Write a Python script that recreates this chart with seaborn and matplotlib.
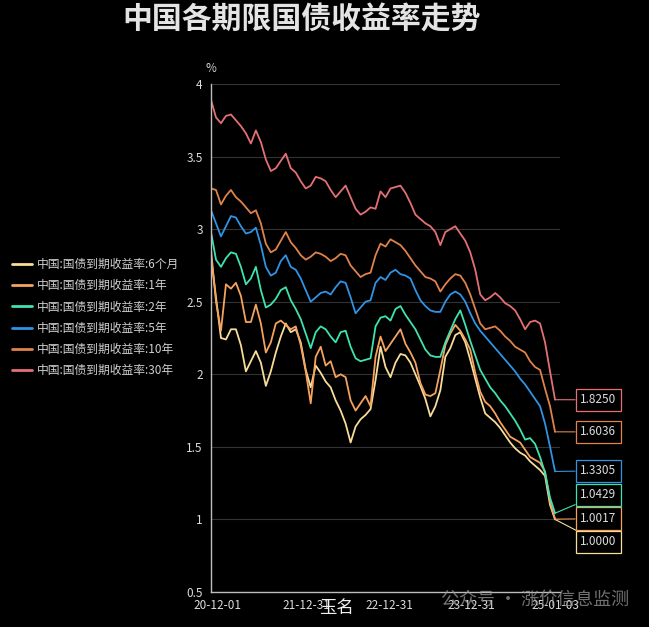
import numpy as np
import pandas as pd
import matplotlib
matplotlib.use("Agg")
import matplotlib.pyplot as plt
import matplotlib.dates as mdates
import seaborn as sns

# ---------------- data ----------------
series_names = [
    "中国:国债到期收益率:6个月",
    "中国:国债到期收益率:1年",
    "中国:国债到期收益率:2年",
    "中国:国债到期收益率:5年",
    "中国:国债到期收益率:10年",
    "中国:国债到期收益率:30年",
]
start_date = "2020-11-04"
end_date = "2025-01-03"

y_6m = [2.81, 2.53, 2.25, 2.24, 2.31, 2.31, 2.20, 2.02, 2.09, 2.16,
        2.08, 1.92, 2.02, 2.15, 2.26, 2.35, 2.29, 2.31, 2.22, 2.03,
        1.91, 2.06, 2.01, 1.95, 1.91, 1.82, 1.75, 1.66, 1.53, 1.64,
        1.69, 1.72, 1.76, 1.96, 2.19, 2.05, 1.98, 2.08, 2.14, 2.13,
        2.08, 2.00, 1.92, 1.83, 1.71, 1.78, 1.89, 2.12, 2.18, 2.27,
        2.29, 2.22, 2.10, 1.97, 1.84, 1.73, 1.70, 1.67, 1.63, 1.58,
        1.53, 1.49, 1.46, 1.44, 1.40, 1.37, 1.34, 1.30, 1.10, 1.0000]
y_1y = [2.86, 2.50, 2.30, 2.62, 2.59, 2.63, 2.54, 2.36, 2.36, 2.48,
        2.35, 2.15, 2.22, 2.35, 2.37, 2.34, 2.31, 2.33, 2.20, 2.02,
        1.80, 2.12, 2.19, 2.06, 2.09, 1.98, 2.00, 1.98, 1.82, 1.75,
        1.80, 1.85, 1.78, 2.12, 2.26, 2.16, 2.21, 2.26, 2.31, 2.21,
        2.15, 2.08, 1.94, 1.86, 1.85, 1.87, 2.03, 2.20, 2.28, 2.34,
        2.30, 2.24, 2.17, 2.01, 1.88, 1.81, 1.78, 1.73, 1.67, 1.62,
        1.57, 1.55, 1.53, 1.48, 1.43, 1.41, 1.39, 1.33, 1.12, 1.0017]
y_2y = [2.98, 2.79, 2.74, 2.80, 2.84, 2.83, 2.74, 2.62, 2.66, 2.74,
        2.58, 2.46, 2.48, 2.52, 2.58, 2.60, 2.51, 2.45, 2.38, 2.28,
        2.18, 2.29, 2.33, 2.31, 2.26, 2.22, 2.29, 2.30, 2.19, 2.11,
        2.09, 2.10, 2.11, 2.33, 2.39, 2.40, 2.37, 2.45, 2.47, 2.41,
        2.36, 2.31, 2.24, 2.17, 2.13, 2.12, 2.12, 2.22, 2.30, 2.38,
        2.44, 2.34, 2.23, 2.13, 2.03, 1.97, 1.91, 1.87, 1.82, 1.78,
        1.73, 1.68, 1.62, 1.55, 1.56, 1.52, 1.43, 1.32, 1.15, 1.0429]
y_5y = [3.13, 3.04, 2.95, 3.02, 3.09, 3.08, 3.02, 2.97, 2.98, 3.01,
        2.89, 2.74, 2.68, 2.70, 2.78, 2.82, 2.74, 2.72, 2.66, 2.58,
        2.50, 2.53, 2.56, 2.57, 2.55, 2.60, 2.64, 2.63, 2.53, 2.42,
        2.46, 2.50, 2.51, 2.63, 2.67, 2.65, 2.70, 2.72, 2.69, 2.68,
        2.66, 2.58, 2.51, 2.47, 2.44, 2.43, 2.43, 2.50, 2.55, 2.57,
        2.55, 2.50, 2.42, 2.35, 2.30, 2.26, 2.22, 2.18, 2.14, 2.10,
        2.06, 2.02, 1.97, 1.93, 1.88, 1.83, 1.78, 1.66, 1.50, 1.3305]
y_10y = [3.28, 3.27, 3.17, 3.23, 3.27, 3.22, 3.19, 3.15, 3.11, 3.13,
         3.04, 2.90, 2.84, 2.86, 2.92, 2.98, 2.91, 2.87, 2.82, 2.79,
         2.81, 2.84, 2.83, 2.81, 2.78, 2.80, 2.83, 2.82, 2.75, 2.71,
         2.67, 2.69, 2.70, 2.82, 2.90, 2.88, 2.93, 2.91, 2.89, 2.85,
         2.80, 2.75, 2.71, 2.67, 2.66, 2.64, 2.57, 2.62, 2.66, 2.69,
         2.68, 2.63, 2.55, 2.45, 2.35, 2.31, 2.32, 2.33, 2.30, 2.26,
         2.23, 2.19, 2.17, 2.15, 2.09, 2.05, 2.03, 1.90, 1.78, 1.6036]
y_30y = [3.89, 3.77, 3.73, 3.78, 3.79, 3.75, 3.71, 3.66, 3.59, 3.68,
         3.60, 3.48, 3.40, 3.42, 3.47, 3.52, 3.42, 3.39, 3.33, 3.28,
         3.30, 3.36, 3.35, 3.33, 3.27, 3.22, 3.26, 3.30, 3.22, 3.14,
         3.10, 3.12, 3.15, 3.14, 3.26, 3.22, 3.28, 3.29, 3.30, 3.25,
         3.18, 3.10, 3.07, 3.04, 3.02, 2.98, 2.89, 2.98, 3.00, 3.02,
         2.97, 2.92, 2.84, 2.72, 2.55, 2.51, 2.53, 2.56, 2.53, 2.49,
         2.47, 2.44, 2.38, 2.31, 2.36, 2.37, 2.35, 2.22, 2.02, 1.8250]

end_labels = ["1.0000", "1.0017", "1.0429", "1.3305", "1.6036", "1.8250"]

x_tick_dates = ["2020-12-01", "2021-12-31", "2022-12-31", "2023-12-31", "2025-01-03"]
x_tick_labels = ["20-12-01", "21-12-31", "22-12-31", "23-12-31", "25-01-03"]
y_ticks = [0.5, 1, 1.5, 2, 2.5, 3, 3.5, 4]
y_tick_labels = ["0.5", "1", "1.5", "2", "2.5", "3", "3.5", "4"]

title = "中国各期限国债收益率走势"

# ---------------- styling ----------------
colors = ["#f7dc9a", "#f5a35c", "#3ee3b0", "#2f93e6", "#e0834a", "#e47074"]
# vertical positions of the value boxes (layout only)
box_y = [0.845, 1.005, 1.17, 1.335, 1.603, 1.824]

sns.set_theme(style="dark")
plt.rcParams["font.family"] = ["Noto Sans CJK SC", "DejaVu Sans"]
plt.rcParams["axes.unicode_minus"] = False

all_values = [y_6m, y_1y, y_2y, y_5y, y_10y, y_30y]
dates = pd.date_range(start_date, end_date, periods=len(y_6m))
frames = []
for name, vals in zip(series_names, all_values):
    frames.append(pd.DataFrame({"date": dates, "value": vals, "series": name}))
df = pd.concat(frames, ignore_index=True)

W, H = 649, 627
fig = plt.figure(figsize=(W / 100, H / 100), dpi=100, facecolor="black")
ax_left, ax_right, ax_top, ax_bottom = 211, 560, 84, 592
ax = fig.add_axes([ax_left / W, 1 - ax_bottom / H,
                   (ax_right - ax_left) / W, (ax_bottom - ax_top) / H])
ax.set_facecolor("black")

palette = dict(zip(series_names, colors))
sns.lineplot(data=df, x="date", y="value", hue="series", hue_order=series_names,
             palette=palette, linewidth=1.3, ax=ax, legend=False)

ax.set_ylim(0.5, 4)
ax.set_xlim(pd.Timestamp(start_date), pd.Timestamp("2025-01-25"))
ax.set_yticks(y_ticks)
ax.set_yticklabels(y_tick_labels)
ax.set_xticks([pd.Timestamp(d) for d in x_tick_dates])
ax.set_xticklabels(x_tick_labels)
ax.set_xlabel("")
ax.set_ylabel("")

ax.grid(False)
ax.yaxis.grid(True, color="#333333", linewidth=0.8)
for s in ["top", "right"]:
    ax.spines[s].set_visible(False)
for s in ["left", "bottom"]:
    ax.spines[s].set_visible(True)
    ax.spines[s].set_color("#bdbdbd")
    ax.spines[s].set_linewidth(1.0)
ax.tick_params(axis="both", colors="#bdbdbd", labelcolor="#dcdcdc",
               labelsize=8.5, length=4, width=0.8, direction="out")
ax.tick_params(axis="y", pad=2)
ax.tick_params(axis="x", pad=1)

# legend
handles = [plt.Line2D([0], [0], color=c, lw=2) for c in colors]
fig.legend(handles, series_names, loc="upper left",
           bbox_to_anchor=(0.018, 1 - 258 / H), frameon=False,
           fontsize=8.5, labelcolor="#d0d0d0", handlelength=1.7,
           handletextpad=0.42, labelspacing=0.70, borderaxespad=0,
           borderpad=0)

# end-value boxes
last_date = dates[-1]
for vals, lab, c, by in zip(all_values, end_labels, colors, box_y):
    ax.annotate(lab, xy=(last_date, vals[-1]), xycoords="data",
                xytext=(1.058, by), textcoords=("axes fraction", "data"),
                ha="left", va="center", fontsize=8.5, color="#dcdcdc",
                bbox=dict(boxstyle="square,pad=0.4", fc="black", ec=c, lw=0.9),
                arrowprops=dict(arrowstyle="-", color=c, lw=0.8,
                                shrinkA=0, shrinkB=0),
                annotation_clip=False)

# title and unit
fig.text(302 / W, 1 - 20 / H, title, ha="center", va="center",
         fontsize=21.5, fontweight="bold", color="#e4e4e4")
fig.text(211 / W, 1 - 68 / H, "%", ha="center", va="center",
         fontsize=8.5, color="#cfcfcf")

# watermarks (overlap the axis labels as in the source image)
fig.text(336 / W, 1 - 608 / H, "玉名", ha="center", va="center",
         fontsize=12.5, color="#f0f0f0")
fig.text(535 / W, 1 - 601 / H, "公众号 · 涨价信息监测", ha="center", va="center",
         fontsize=13, color="#a0a0a0", alpha=0.7)

fig.savefig("out.png", dpi=100, facecolor="black")
